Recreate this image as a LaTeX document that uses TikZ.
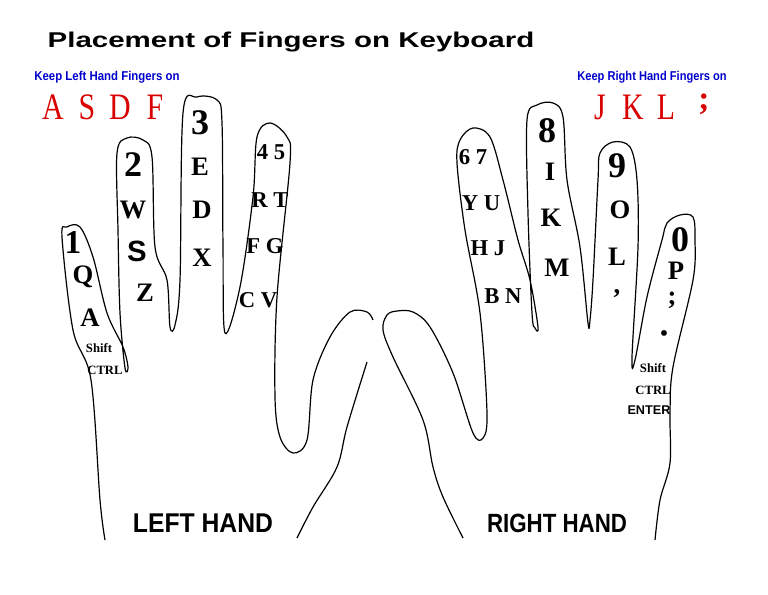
\documentclass[tikz,border=0pt]{standalone}
\usepackage{fontspec}
\usepackage{graphicx}
\setmainfont{Liberation Serif}
\setsansfont{Liberation Sans}
\begin{document}
\begin{tikzpicture}[x=0.75pt,y=-0.75pt,
  hand/.style={line width=0.9pt,black},
  key/.style={font=\fontsize{20}{20}\selectfont\bfseries,inner sep=0pt},
  bigkey/.style={font=\fontsize{27}{27}\selectfont\bfseries,inner sep=0pt},
  midkey/.style={font=\fontsize{17}{17}\selectfont\bfseries,inner sep=0pt},
  small/.style={font=\fontsize{9.5}{9.5}\selectfont\bfseries,inner sep=0pt},
  home/.style={font=\fontsize{28}{28}\selectfont,text=red!85!black,inner sep=0pt},
  keep/.style={text=blue!80!black,inner sep=0pt},
  handname/.style={inner sep=0pt}]
\useasboundingbox[fill=white] (0,0) rectangle (768,594);
% title
\node[inner sep=0pt] (title) at (291,42) {\resizebox*{365pt}{15pt}{\sffamily\bfseries Placement of Fingers on Keyboard}};
\node[keep] (keepL) at (107,77) {\resizebox*{109pt}{9pt}{\sffamily\bfseries Keep Left Hand Fingers on}};
\node[keep] (keepR) at (652,77) {\resizebox*{112pt}{9pt}{\sffamily\bfseries Keep Right Hand Fingers on}};
% home keys
\node[home] (hA) at (53,107) {\scalebox{0.8}[1]{A}};
\node[home] (hS) at (87,107) {\scalebox{0.8}[1]{S}};
\node[home] (hD) at (120,107) {\scalebox{0.8}[1]{D}};
\node[home] (hF) at (155,107) {\scalebox{0.8}[1]{F}};
\node[home] (hJ) at (600,107) {\scalebox{0.8}[1]{J}};
\node[home] (hK) at (633,107) {\scalebox{0.8}[1]{K}};
\node[home] (hL) at (666,107) {\scalebox{0.8}[1]{L}};
\node[home,font=\fontsize{25}{25}\selectfont\bfseries] (hsemi) at (704,104) {;};
% left hand outline
\draw[hand] plot[smooth,tension=0.55] coordinates {
 (105,540) (100,500) (91,380) (73,330) (62,237) (67,227) (80,227) (93,257)
 (107,313) (123,347) (128,367) (125,368) (120,313) (118,230) (117,153)
 (127,138) (143,140) (152,157) (155,247) (167,280) (170,327) (175,325)
 (180,280) (183,113) (197,97) (217,100) (222,123) (223,247) (225,333)
 (240,287) (253,197) (257,137) (270,123) (287,137) (290,163) (277,297)
 (275,397) (280,437) (293,453) (307,440) (313,380) (330,337) (350,312)
 (367,312) (373,320)};
\draw[hand] plot[smooth,tension=0.55] coordinates {
 (367,362) (347,427) (337,467) (313,507) (297,538)};
% right hand outline
\draw[hand] plot[smooth,tension=0.55] coordinates {
 (463,538) (443,497) (433,467) (423,420) (393,357) (383,330) (387,315)
 (397,311) (413,312) (430,327) (453,373) (473,433) (483,438) (487,413)
 (480,313) (465,230) (457,163) (460,140) (473,128) (490,137) (503,180)
 (518,240) (530,280) (538,327) (535,328) (532,313) (528,213) (527,120)
 (537,105) (553,103) (563,117) (567,180) (580,247) (588,323) (590,320)
 (593,280) (598,180) (600,153) (613,142) (630,147) (637,180) (638,247)
 (632,357) (635,360) (647,297) (662,240) (667,223) (680,215) (693,217)
 (695,240) (693,280) (673,367) (670,413) (670,463) (660,500) (655,540)};
% left hand keys
\node[bigkey,font=\fontsize{25}{25}\selectfont\bfseries] (k1) at (73,242) {1};
\node[key] (kQ) at (83,277) {Q};
\node[key] (kA) at (90,318) {A};
\node[small] (lshift) at (99,348) {Shift};
\node[small] (lctrl) at (105,370) {CTRL};
\node[bigkey] (k2) at (133,165) {2};
\node[key] (kW) at (133,210) {W};
\node[key,font=\fontsize{22}{22}\selectfont\sffamily\bfseries] (kS) at (137,251) {S};
\node[key] (kZ) at (145,293) {Z};
\node[bigkey] (k3) at (200,123) {3};
\node[key] (kE) at (200,167) {E};
\node[key] (kD) at (202,210) {D};
\node[key] (kX) at (202,258) {X};
\node[midkey] (k45) at (271,152) {4 5};
\node[midkey] (kRT) at (270,200) {R T};
\node[midkey] (kFG) at (265,246) {F G};
\node[midkey] (kCV) at (258,300) {C V};
% right hand keys
\node[midkey] (k67) at (473,157) {6 7};
\node[midkey] (kYU) at (481,203) {Y U};
\node[midkey] (kHJ) at (488,248) {H J};
\node[midkey] (kBN) at (503,296) {B N};
\node[bigkey] (k8) at (547,131) {8};
\node[key] (kI) at (550,172) {I};
\node[key] (kK) at (551,218) {K};
\node[key] (kM) at (557,268) {M};
\node[bigkey] (k9) at (617,166) {9};
\node[key] (kO) at (620,210) {O};
\node[key] (kL) at (617,257) {L};
\node[key] (kcomma) at (617,294) {,};
\node[bigkey] (k0) at (680,240) {0};
\node[key] (kP) at (676,271) {P};
\node[key] (ksemi) at (672,300) {;};
\node[key,font=\fontsize{16}{16}\selectfont\bfseries] (kdot) at (664,336) {•};
\node[small] (rshift) at (653,368) {Shift};
\node[small] (rctrl) at (653,390) {CTRL};
\node[small,font=\fontsize{9.5}{9.5}\selectfont\sffamily\bfseries] (renter) at (649,410) {ENTER};
% hand names
\node[handname] (lefthand) at (203,523) {\resizebox*{105pt}{14pt}{\sffamily\bfseries LEFT HAND}};
\node[handname] (righthand) at (557,523) {\resizebox*{105pt}{14pt}{\sffamily\bfseries RIGHT HAND}};
\end{tikzpicture}
\end{document}
